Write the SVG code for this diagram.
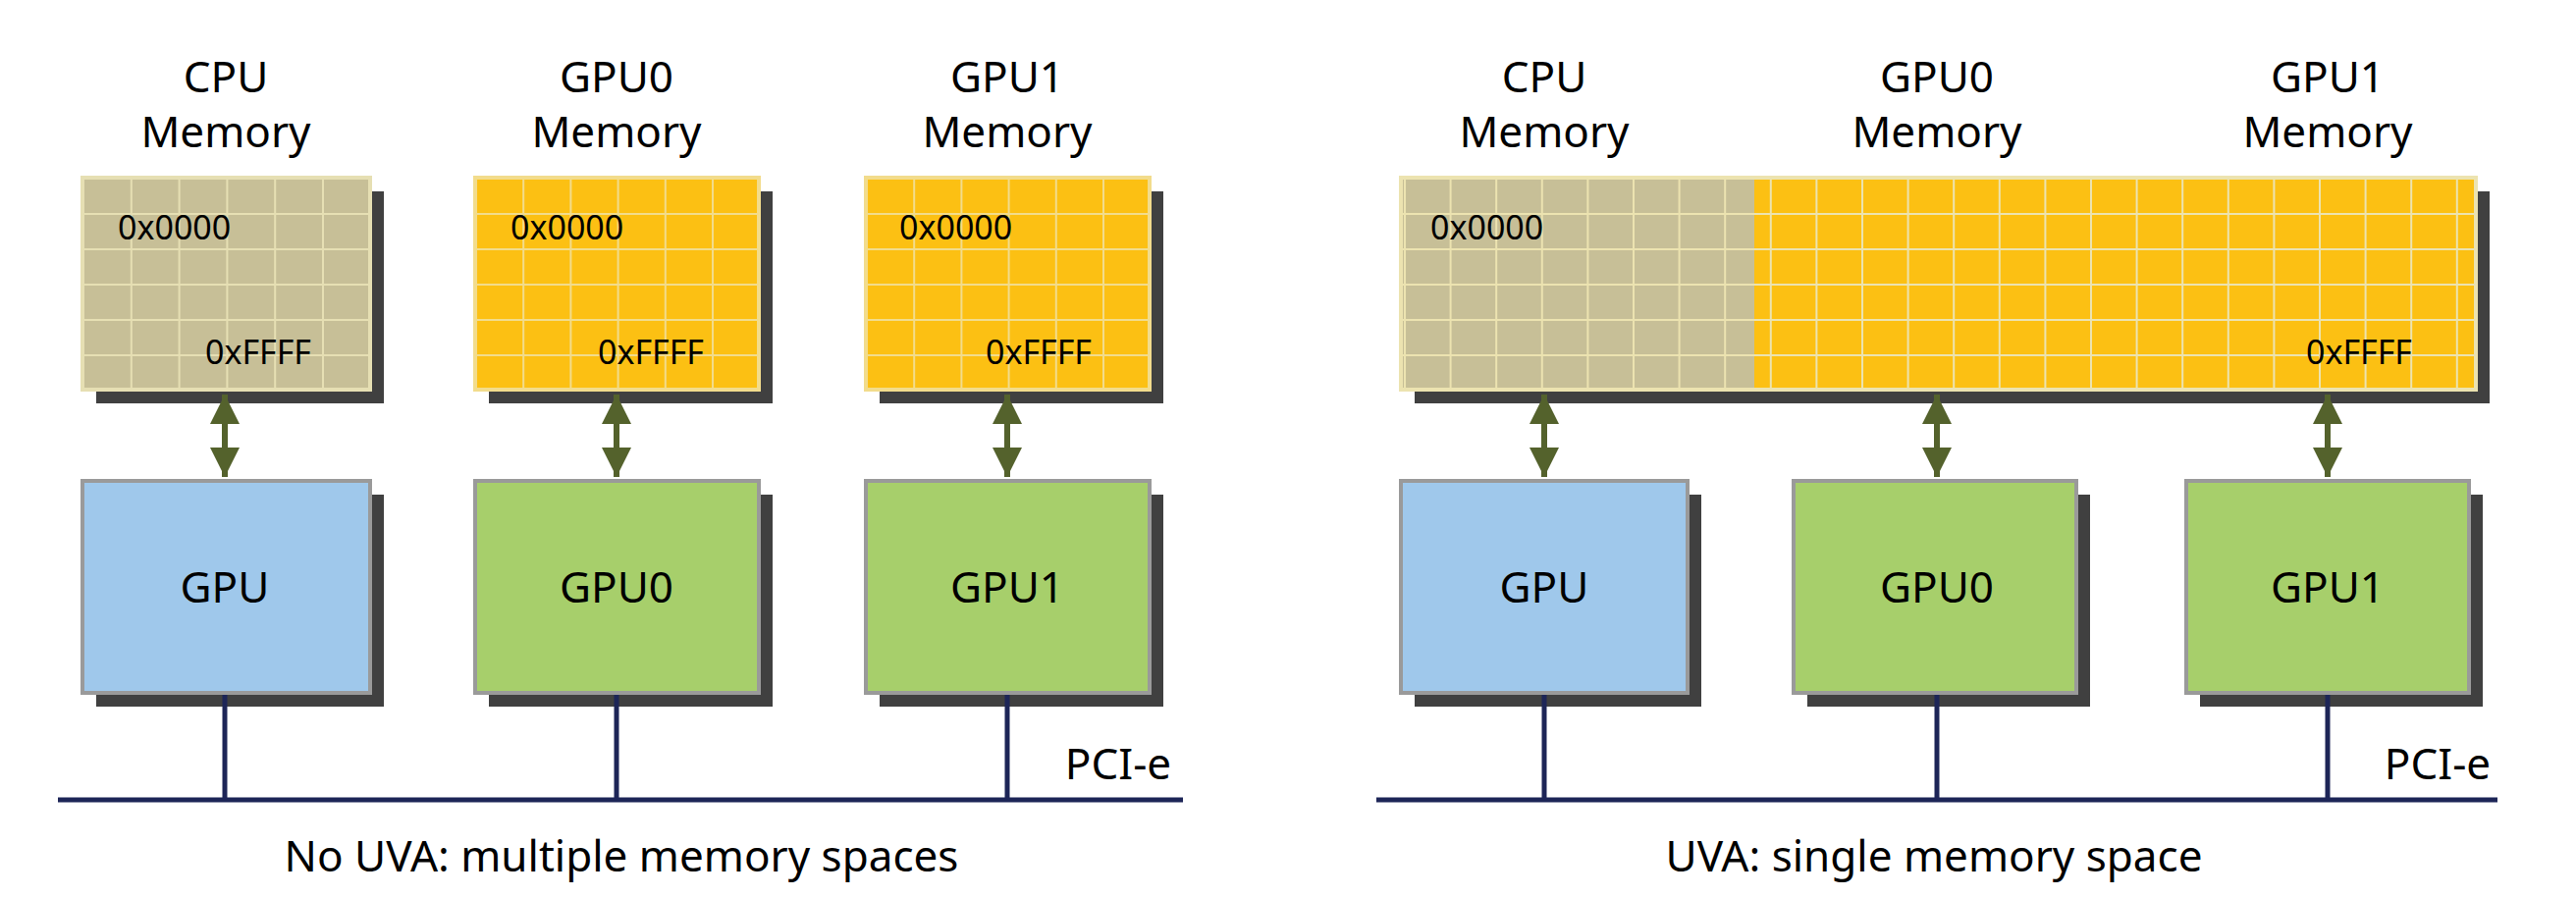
<svg xmlns="http://www.w3.org/2000/svg" width="2624" height="914" viewBox="0 0 2624 914">
<style>
text{font-family:"Noto Sans","Open Sans",sans-serif;fill:#000}
.t{font-size:44px;text-anchor:middle}
.a{font-size:34px}
.sh{fill:#404040}
.mc{fill:#c7bf97;stroke:#e6dfb3;stroke-width:4}
.mg{fill:#fcc013;stroke:#f2dc8c;stroke-width:4}
.gb{fill:#9fc8eb;stroke:#9a9a9a;stroke-width:4}
.gg{fill:#a7cf6b;stroke:#9a9a9a;stroke-width:4}
.arr{stroke:#54622c;stroke-width:6;marker-start:url(#ah);marker-end:url(#ah)}
.bus{stroke:#1d2557;stroke-width:5;fill:none}
</style>
<defs>
<marker id="ah" viewBox="0 0 10 10" refX="10" refY="5" markerWidth="6" markerHeight="5" orient="auto-start-reverse" markerUnits="strokeWidth"><path d="M0,0L10,5L0,10z" fill="#54622c"/></marker>
<pattern id="p1" patternUnits="userSpaceOnUse" x="84" y="181" width="48.8" height="36"><path d="M0,0H48.8M0,0V36" stroke="#e6dfb3" stroke-width="4" fill="none"/></pattern>
<pattern id="p2" patternUnits="userSpaceOnUse" x="484" y="181" width="48.2" height="36"><path d="M0,0H48.2M0,0V36" stroke="#f2dc8c" stroke-width="4" fill="none"/></pattern>
<pattern id="p3" patternUnits="userSpaceOnUse" x="882" y="181" width="48.2" height="36"><path d="M0,0H48.2M0,0V36" stroke="#f2dc8c" stroke-width="4" fill="none"/></pattern>
<pattern id="p4" patternUnits="userSpaceOnUse" x="1430" y="181" width="46.6" height="36"><path d="M0,0H46.6M0,0V36" stroke="#ece3b0" stroke-width="4" fill="none"/></pattern>
</defs>
<g id="left">
<text class="t" x="230" y="94">CPU</text><text class="t" x="230" y="150">Memory</text>
<text class="t" x="628" y="94">GPU0</text><text class="t" x="628" y="150">Memory</text>
<text class="t" x="1026" y="94">GPU1</text><text class="t" x="1026" y="150">Memory</text>
<g id="cpumem"><rect class="sh" x="98" y="195" width="293" height="216"/><rect class="mc" x="84" y="181" width="293" height="216"/><rect x="84" y="181" width="293" height="216" fill="url(#p1)"/><text class="a" x="120" y="244">0x0000</text><text class="a" x="209" y="371">0xFFFF</text></g>
<g id="gpu0mem"><rect class="sh" x="498" y="195" width="289" height="216"/><rect class="mg" x="484" y="181" width="289" height="216"/><rect x="484" y="181" width="289" height="216" fill="url(#p2)"/><text class="a" x="520" y="244">0x0000</text><text class="a" x="609" y="371">0xFFFF</text></g>
<g id="gpu1mem"><rect class="sh" x="896" y="195" width="289" height="216"/><rect class="mg" x="882" y="181" width="289" height="216"/><rect x="882" y="181" width="289" height="216" fill="url(#p3)"/><text class="a" x="916" y="244">0x0000</text><text class="a" x="1004" y="371">0xFFFF</text></g>
<g id="gpuL"><rect class="sh" x="98" y="504" width="293" height="216"/><rect class="gb" x="84" y="490" width="293" height="216"/><text class="t" x="229" y="614">GPU</text></g>
<g id="gpu0L"><rect class="sh" x="498" y="504" width="289" height="216"/><rect class="gg" x="484" y="490" width="289" height="216"/><text class="t" x="628" y="614">GPU0</text></g>
<g id="gpu1L"><rect class="sh" x="896" y="504" width="289" height="216"/><rect class="gg" x="882" y="490" width="289" height="216"/><text class="t" x="1026" y="614">GPU1</text></g>
<text class="t" x="1139" y="794">PCI-e</text>
<text class="t" x="633" y="888">No UVA: multiple memory spaces</text>
</g>
<g id="right">
<text class="t" x="1573" y="94">CPU</text><text class="t" x="1573" y="150">Memory</text>
<text class="t" x="1973" y="94">GPU0</text><text class="t" x="1973" y="150">Memory</text>
<text class="t" x="2371" y="94">GPU1</text><text class="t" x="2371" y="150">Memory</text>
<g id="uvamem"><rect class="sh" x="1441" y="195" width="1095" height="216"/><rect fill="#fcc013" x="1427" y="181" width="1095" height="216"/><rect fill="#c7bf97" x="1427" y="181" width="360" height="216"/><rect x="1427" y="181" width="1095" height="216" fill="url(#p4)"/><rect x="1427" y="181" width="1095" height="216" fill="none" stroke="#ece3b0" stroke-width="4"/><text class="a" x="1457" y="244">0x0000</text><text class="a" x="2349" y="371">0xFFFF</text></g>
<g id="gpuR"><rect class="sh" x="1441" y="504" width="292" height="216"/><rect class="gb" x="1427" y="490" width="292" height="216"/><text class="t" x="1573" y="614">GPU</text></g>
<g id="gpu0R"><rect class="sh" x="1841" y="504" width="288" height="216"/><rect class="gg" x="1827" y="490" width="288" height="216"/><text class="t" x="1973" y="614">GPU0</text></g>
<g id="gpu1R"><rect class="sh" x="2241" y="504" width="288" height="216"/><rect class="gg" x="2227" y="490" width="288" height="216"/><text class="t" x="2371" y="614">GPU1</text></g>
<text class="t" x="2483" y="794">PCI-e</text>
<text class="t" x="1970" y="888">UVA: single memory space</text>
</g>
<g id="connectors">
<line class="arr" x1="229" y1="402" x2="229" y2="486"/>
<line class="arr" x1="628" y1="402" x2="628" y2="486"/>
<line class="arr" x1="1026" y1="402" x2="1026" y2="486"/>
<line class="arr" x1="1573" y1="402" x2="1573" y2="486"/>
<line class="arr" x1="1973" y1="402" x2="1973" y2="486"/>
<line class="arr" x1="2371" y1="402" x2="2371" y2="486"/>
<path class="bus" d="M59,815H1205M229,708V815M628,708V815M1026,708V815"/>
<path class="bus" d="M1402,815H2544M1573,708V815M1973,708V815M2371,708V815"/>
</g>
</svg>
